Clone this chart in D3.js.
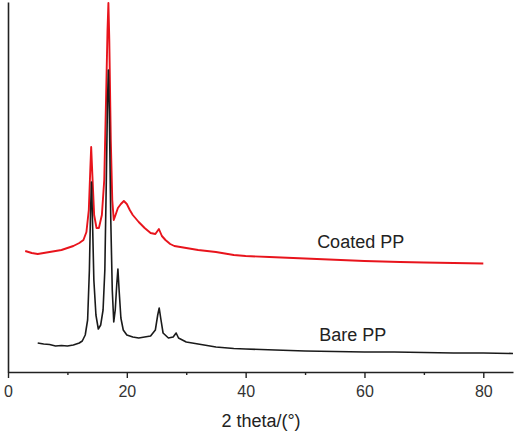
<!DOCTYPE html>
<html>
<head>
<meta charset="utf-8">
<script src="https://cdn.jsdelivr.net/npm/d3@7"></script>
<style>
  body { margin: 0; background: #fff; }
  svg { display: block; font-family: "Liberation Sans", Arial, sans-serif; }
</style>
</head>
<body>
<svg width="515" height="435"></svg>
<script>
// XRD patterns, 2 theta (deg) vs intensity (a.u.)
const bareX = [5, 6, 7, 8, 9, 10, 11, 12, 12.5, 13, 13.4, 13.7, 13.9, 14.05, 14.2, 14.45, 14.8, 15.2, 15.6, 16, 16.3, 16.55, 16.75, 16.9, 17.05, 17.3, 17.55, 17.8, 18.05, 18.3, 18.5, 18.7, 19, 19.4, 20, 21, 22, 23, 24, 24.8, 25.2, 25.45, 25.7, 26.1, 27, 27.8, 28.3, 28.7, 30, 32, 35, 38, 40, 45, 50, 55, 60, 65, 70, 75, 80, 85];
const bareY = [29, 28, 27.5, 26, 26.5, 26, 27, 29, 31, 37, 52, 102, 162, 190, 157, 92, 57, 43, 47, 62, 102, 192, 272, 302, 262, 152, 82, 50, 62, 87, 103, 82, 54, 42, 37, 35, 34, 35, 36, 42, 57, 64, 54, 39, 34, 35, 39, 34, 30, 28, 25, 23.5, 23, 22, 21, 20.5, 20, 20, 19.5, 19, 19, 18.5];

const coatedX = [2.9, 4, 5, 6, 7, 8, 9, 10, 11, 12, 12.7, 13.2, 13.6, 13.85, 14, 14.2, 14.5, 14.9, 15.3, 15.8, 16.2, 16.5, 16.75, 16.9, 17.05, 17.3, 17.55, 17.8, 18.1, 18.5, 19, 19.5, 20, 20.5, 21, 22, 23, 24, 24.8, 25.4, 25.9, 26.5, 27.3, 28, 30, 32, 35, 38, 40, 44, 48, 52, 56, 60, 66, 70, 75, 80];
const coatedY = [121, 119, 118, 119, 120, 121, 122, 124, 126, 129, 132, 140, 162, 202, 225, 197, 157, 144, 144, 157, 192, 272, 342, 369, 332, 232, 172, 152, 157, 164, 168, 171, 168, 162, 157, 150, 144, 139, 138, 143, 136, 132, 128, 126, 124, 122, 120, 117, 116, 115, 114, 113, 112, 111, 110, 109.5, 109, 108.5];

const majorTicks = [0, 20, 40, 60, 80];
const minorTicks = [10, 30, 50, 70];
const seriesNames = ["Bare PP", "Coated PP"];
const xTitle = "2 theta/(\u00b0)";

const svg = d3.select("svg");

const x = d3.scaleLinear().domain([0, 85]).range([8, 513]);
const y = d3.scaleLinear().domain([0, 370]).range([372, 2]);

const line = d3.line()
  .x(d => x(d[0]))
  .y(d => y(d[1]));

svg.append("path")
  .datum(d3.zip(coatedX, coatedY))
  .attr("fill", "none")
  .attr("stroke", "#e8141c")
  .attr("stroke-width", 1.9)
  .attr("stroke-linejoin", "round")
  .attr("d", line);

svg.append("path")
  .datum(d3.zip(bareX, bareY))
  .attr("fill", "none")
  .attr("stroke", "#1a1a1a")
  .attr("stroke-width", 1.6)
  .attr("stroke-linejoin", "round")
  .attr("d", line);

// axes
const xAxis = svg.append("g")
  .attr("transform", `translate(0,${y(0)})`)
  .call(d3.axisBottom(x).tickValues(majorTicks).tickSize(6).tickSizeOuter(0).tickPadding(8));

svg.append("g")
  .attr("transform", `translate(0,${y(0)})`)
  .call(d3.axisBottom(x).tickValues(minorTicks).tickSize(3).tickFormat("").tickSizeOuter(0))
  .select(".domain").remove();

xAxis.select(".domain").attr("stroke", "#222").attr("stroke-width", 1.6);
xAxis.selectAll(".tick text")
  .attr("font-size", 16)
  .attr("font-family", "Liberation Sans, Arial, sans-serif")
  .attr("fill", "#333");
svg.selectAll(".tick line").attr("stroke", "#222").attr("stroke-width", 1.4);

svg.append("g")
  .attr("transform", `translate(${x(0)},0)`)
  .call(d3.axisLeft(y).tickValues([]).tickSizeOuter(0))
  .select(".domain").attr("stroke", "#222").attr("stroke-width", 1.6);

svg.append("text")
  .attr("x", 261)
  .attr("y", 427)
  .attr("text-anchor", "middle")
  .attr("font-size", 18)
  .attr("fill", "#222")
  .text(xTitle);

// series labels
svg.append("text")
  .attr("x", x(52.4))
  .attr("y", 341)
  .attr("font-size", 18)
  .attr("fill", "#222")
  .text(seriesNames[0]);

svg.append("text")
  .attr("x", x(52.2) - 1)
  .attr("y", 248)
  .attr("font-size", 18)
  .attr("fill", "#222")
  .text(seriesNames[1]);
</script>
</body>
</html>
